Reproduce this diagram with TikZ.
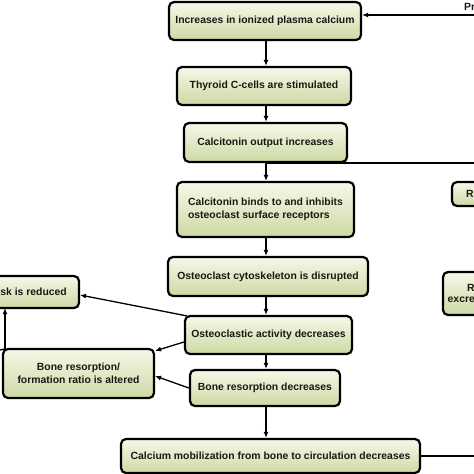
\documentclass[tikz,border=0pt]{standalone}
\usepackage{fontspec}
\setmainfont{Liberation Sans}
\usetikzlibrary{arrows.meta,calc}
\definecolor{boxtop}{RGB}{247,248,233}
\definecolor{boxbot}{RGB}{204,217,164}
\definecolor{txt}{RGB}{25,25,20}
\tikzset{
  boxfill/.style={draw=black, line width=2.2pt, rounded corners=5pt,
    top color=boxtop, bottom color=boxbot},
  box/.style={boxfill, inner sep=0pt, text=txt,
    font=\fontsize{10.4}{12.5}\selectfont\bfseries, align=center},
  lbl/.style={font=\fontsize{10.4}{12.5}\selectfont\bfseries, inner sep=0pt, text=txt},
  conn/.style={line width=1.3pt, draw=black},
  arr/.style={conn, -{Latex[length=6pt,width=5pt]}}
}
\begin{document}
\begin{tikzpicture}[x=1pt,y=-1pt]
\useasboundingbox (0,0) rectangle (474,474);
\clip (0,0) rectangle (474,474);
\fill[white] (0,0) rectangle (474,474);

\coordinate (axis) at (266,0);

\node[box, minimum width=192pt, minimum height=38pt] (n1) at (265,21) {Increases in ionized plasma calcium};
\node[box, minimum width=174pt, minimum height=38pt] (n2) at (264,86) {Thyroid C-cells are stimulated};
\node[box, minimum width=163pt, minimum height=39pt] (n3) at (265.5,142.5) {Calcitonin output increases};
\node[box, minimum width=177pt, minimum height=55pt, align=left] (n4) at (265.5,209.5) {Calcitonin binds to and inhibits\\osteoclast surface receptors};
\node[box, minimum width=200pt, minimum height=39pt] (n5) at (268,276.5) {Osteoclast cytoskeleton is disrupted};
\node[box, minimum width=167pt, minimum height=38pt] (n6) at (268.5,335) {Osteoclastic activity decreases};
\node[box, minimum width=150pt, minimum height=36pt] (n7) at (265,388) {Bone resorption decreases};
\node[box, minimum width=299pt, minimum height=34pt] (n8) at (270.5,456) {Calcium mobilization from bone to circulation decreases};
\node[box, minimum width=151pt, minimum height=49pt] (n9) at (78.5,373.5) {Bone resorption/\\formation ratio is altered};

% boxes cut by the picture's edges
\path[boxfill] (-60,276) rectangle (79,308);
\node[lbl, anchor=east, minimum height=32pt, inner xsep=1pt] (n10) at (68,292) {sk is reduced};
\path[boxfill] (452,182) rectangle (520,206);
\node[lbl, anchor=west] (r1) at (466,194) {R};
\path[boxfill] (443,272) rectangle (520,315);
\node[lbl, anchor=west] (r2a) at (467,287.5) {R};
\node[lbl, anchor=west] (r2b) at (447.5,300) {excre};
\node[lbl, anchor=west] (pr) at (464,7) {Pr};

\coordinate (inR) at (474,15);
\coordinate (c3) at (474,163);
\coordinate (c8) at (474,457);
\coordinate (cL) at (0,350);
\coordinate (j) at (5,349);
\coordinate (n10e) at (80,295);
\coordinate (n10s) at (5,308);

\draw[arr] (inR) -- (inR -| n1.east);
\draw[arr] (n1.south -| axis) -- (n2.north -| axis);
\draw[arr] (n2.south -| axis) -- (n3.north -| axis);
\draw[arr] (n3.south -| axis) -- (n4.north -| axis);
\draw[arr] (n4.south -| axis) -- (n5.north -| axis);
\draw[arr] (n5.south -| axis) -- (n6.north -| axis);
\draw[arr] (n6.south -| axis) -- (n7.north -| axis);
\draw[arr] (n7.south -| axis) -- (n8.north -| axis);
\draw[conn] (c3 -| axis) -- (c3);
\draw[conn] (n8.east) -- (n8.east -| c8);
\draw[arr] ($(n6.north west)+(3,1)$) -- (n10e);
\draw[arr] ($(n6.west)+(0,7)$) -- ($(n9.north east)+(0,3)$);
\draw[arr] (n7.west) -- ($(n9.east)+(0,2.5)$);
\draw[conn] (cL) -- (j);
\draw[arr] (j) -- (n10s);
\end{tikzpicture}
\end{document}
